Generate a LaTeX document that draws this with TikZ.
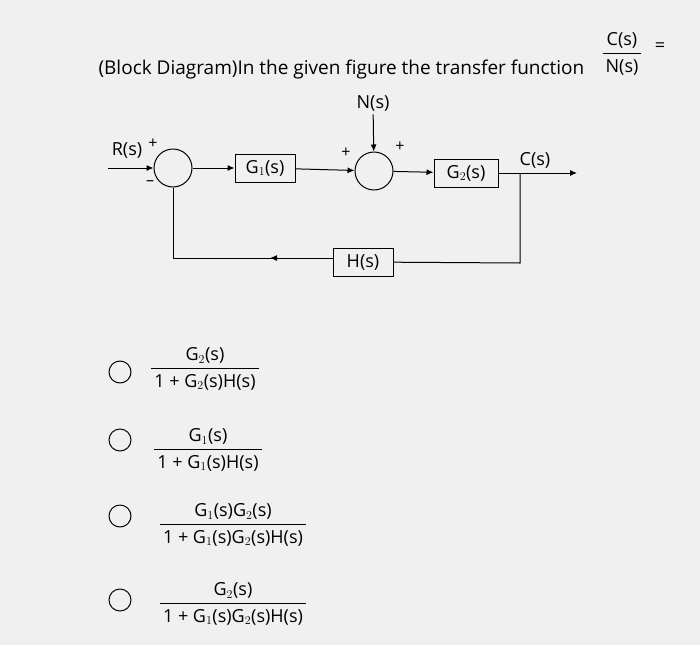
\documentclass[tikz,border=0pt]{standalone}
\usepackage{fontspec}
\setmainfont{Open Sans}
\usetikzlibrary{arrows.meta}
\newcommand{\myfr}[2]{\begin{tabular}{@{\,}c@{\,}}#1\\[1pt]\hline\rule{0pt}{19pt}#2\end{tabular}}
\begin{document}
\begin{tikzpicture}[x=1pt,y=-1pt,
  blk/.style={draw,line width=1pt,minimum height=28pt,inner sep=3pt,font=\fontsize{18}{20}\selectfont},
  sumc/.style={draw,circle,line width=1pt,minimum size=38pt,inner sep=0pt},
  lbl/.style={font=\fontsize{18}{20}\selectfont},
  sgn/.style={font=\fontsize{16}{16}\selectfont,inner sep=0pt},
  sig/.style={line width=1pt,-{Latex[length=7pt,width=6pt]}},
  ln/.style={line width=1pt},
  opt/.style={draw,circle,line width=1pt,minimum size=22pt,inner sep=0pt},
  ans/.style={font=\fontsize{18}{20}\selectfont,inner sep=0pt}]
\fill[gray!12] (0,0) rectangle (700,645);
\useasboundingbox (0,0) rectangle (700,645);
\node[lbl,anchor=base west,font=\fontsize{19}{21}\selectfont] (title) at (95,74) {(Block Diagram)In the given figure the transfer function};
\node[lbl,inner sep=0pt] (tf) at (622,55) {\myfr{C(s)}{N(s)}};
\node[lbl] (eq) at (660,47) {=};
\node[lbl] (N) at (373,103) {N(s)};
\node[sumc] (s1) at (173,168) {};
\node[blk,minimum width=60pt] (g1) at (265,168) {G$_1$(s)};
\node[sumc] (s2) at (374,171) {};
\node[blk,minimum width=64pt] (g2) at (466,173) {G$_2$(s)};
\node[blk,minimum width=60pt] (h) at (363,262) {H(s)};
\coordinate (rin) at (108,168);
\node[lbl] (R) at (127,150) {R(s)};
\node[lbl] (C) at (535,160) {C(s)};
\coordinate (out) at (577,173);
\coordinate (tap) at (520,173);
\coordinate (c1) at (520,263);
\coordinate (c2) at (173,258);
\coordinate (mid) at (270,258);
\node[sgn] (p1) at (153,144) {+};
\node[sgn] (m1) at (150,183) {--};
\node[sgn] (p2) at (346,153) {+};
\node[sgn] (p3) at (400,147) {+};
\draw[sig] (rin) -- (s1);
\draw[sig] (s1) -- (g1);
\draw[sig] (g1) -- (s2);
\draw[sig] (N) -- (s2);
\draw[sig] (s2) -- (g2);
\draw[sig] (g2) -- (out);
\draw[ln] (tap) -- (c1) -- (h);
\draw[ln] (h) -- (c2 -| h.west) -- (c2) -- (s1);
\draw[sig] (h.west |- c2) -- (mid);
\node[opt] (o1) at (120,372) {};
\node[ans] (a1) at (205,370) {\myfr{G$_2$(s)}{1 + G$_2$(s)H(s)}};
\node[opt] (o2) at (120,440) {};
\node[ans] (a2) at (208,451) {\myfr{G$_1$(s)}{1 + G$_1$(s)H(s)}};
\node[opt] (o3) at (120,516) {};
\node[ans] (a3) at (233,526) {\myfr{G$_1$(s)G$_2$(s)}{1 + G$_1$(s)G$_2$(s)H(s)}};
\node[opt] (o4) at (120,600) {};
\node[ans] (a4) at (233,605) {\myfr{G$_2$(s)}{1 + G$_1$(s)G$_2$(s)H(s)}};
\end{tikzpicture}
\end{document}
